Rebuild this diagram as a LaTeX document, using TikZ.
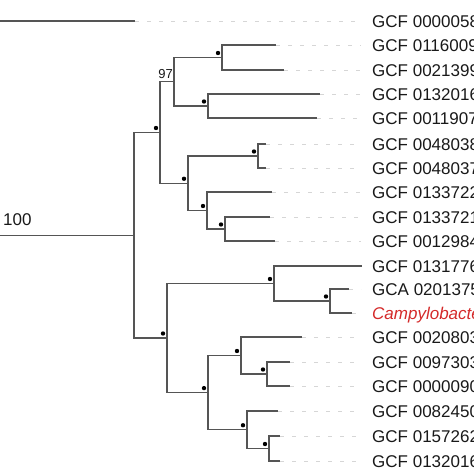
\documentclass[tikz,border=0pt]{standalone}
\usepackage{fontspec}
\setmainfont{Liberation Sans}
\definecolor{branchgray}{HTML}{555555}
\definecolor{leadergray}{HTML}{D6D6D6}
\definecolor{labelred}{HTML}{D42A2A}

\begin{document}
\begin{tikzpicture} [
            x=1pt, y=-1pt,
            leaf/.style={anchor=west,inner sep=0pt,text height=12.2pt,text depth=0pt,
                         font=\fontsize{17}{20}\selectfont,text=black!90},
            branch/.style = {draw,line width=1.1pt,branchgray},
            leader/.style = {draw,line width=0.9pt,leadergray,dash pattern=on 4pt off 8pt,shorten >=11pt},
            support/.style = {circle,fill=black,minimum size=4.4pt,inner sep=0pt},
            bootstrap/.style = {inner sep=0pt,text=black!90},
        ]
        \useasboundingbox (0,0) rectangle (474,474);
        % First we place the inner nodes of the tree
        \foreach \name/\x/\y in {
                r/134/235.3,
                % upper clade
                a/160/132.5,
                a1/174/81.75,
                a11/222/57.5,
                a12/208/106,
                b/188/183.25,
                b1/258/156,
                b2/207/210.5,
                b21/225/229,
                % lower clade
                c/167/338,
                c1/274/283.5,
                c11/330/301,
                c2/208/392.6,
                c21/241/355.5,
                c211/267/374,
                c22/247/429.75,
                c221/269/448.5}
            \coordinate (\name) at (\x,\y);
        \coordinate (r0) at (0,235.3);
        \coordinate (s1) at (0,21);
        % Then the leaves: tip, row, number, label
        \foreach \tip/\y/\i/\label in {
                135/21/1/GCF 0000058,
                276/45/2/GCF 0116009,
                284/70/3/GCF 0021399,
                320/94/4/GCF 0132016,
                317/118/5/GCF 0011907,
                266/144/6/GCF 0048038,
                266/168/7/GCF 0048037,
                272/192/8/GCF 0133722,
                270/217/9/GCF 0133721,
                275/241/10/GCF 0012984,
                362/266/11/GCF 0131776,
                349/289/12/GCA 0201375,
                352/313/13/\textcolor{labelred}{\itshape Campylobacter},
                302/337/14/GCF 0020803,
                290/362/15/GCF 0097303,
                290/386/16/GCF 0000090,
                278/411/17/GCF 0082450,
                280/436/18/GCF 0157262,
                280/461/19/GCF 0132016} {
            \coordinate (t\i) at (\tip,\y);
            \node[leaf] (l\i) at (372,\y) {\label};
        }
        % Dashed leaders from tips to labels
        \foreach \i in {1,...,19}
            \path[leader] (t\i) -- (l\i.west);
        % Connect nodes with branches
        \path[branch] (r0) -- (r);
        \path[branch] (s1) -- (t1);
        \foreach \source/ \dest in {
                r/a,r/c,
                a/a1,a/b,
                a1/a11,a1/a12,a11/t2,a11/t3,a12/t4,a12/t5,
                b/b1,b/b2,b1/t6,b1/t7,b2/t8,b2/b21,b21/t9,b21/t10,
                c/c1,c/c2,c1/t11,c1/c11,c11/t12,c11/t13,
                c2/c21,c2/c22,c21/t14,c21/c211,c211/t15,c211/t16,
                c22/t17,c22/c221,c221/t18,c221/t19}
            \path[branch] (\source) |- (\dest);
        % full support marks
        \foreach \name in {a,a11,a12,b,b1,b2,b21,c,c1,c11,c2,c21,c211,c22,c221}
            \node[support] (d\name) at ([xshift=-4pt,yshift=4.5pt]\name) {};
        % bootstrap values
        \node[bootstrap,anchor=south east,font=\fontsize{13}{15}\selectfont] (bs97) at ([xshift=-1pt,yshift=3pt]a1) {97};
        \node[bootstrap,anchor=base west,font=\fontsize{17}{20}\selectfont] (bs100) at (3,225) {100};
    \end{tikzpicture}
\end{document}
